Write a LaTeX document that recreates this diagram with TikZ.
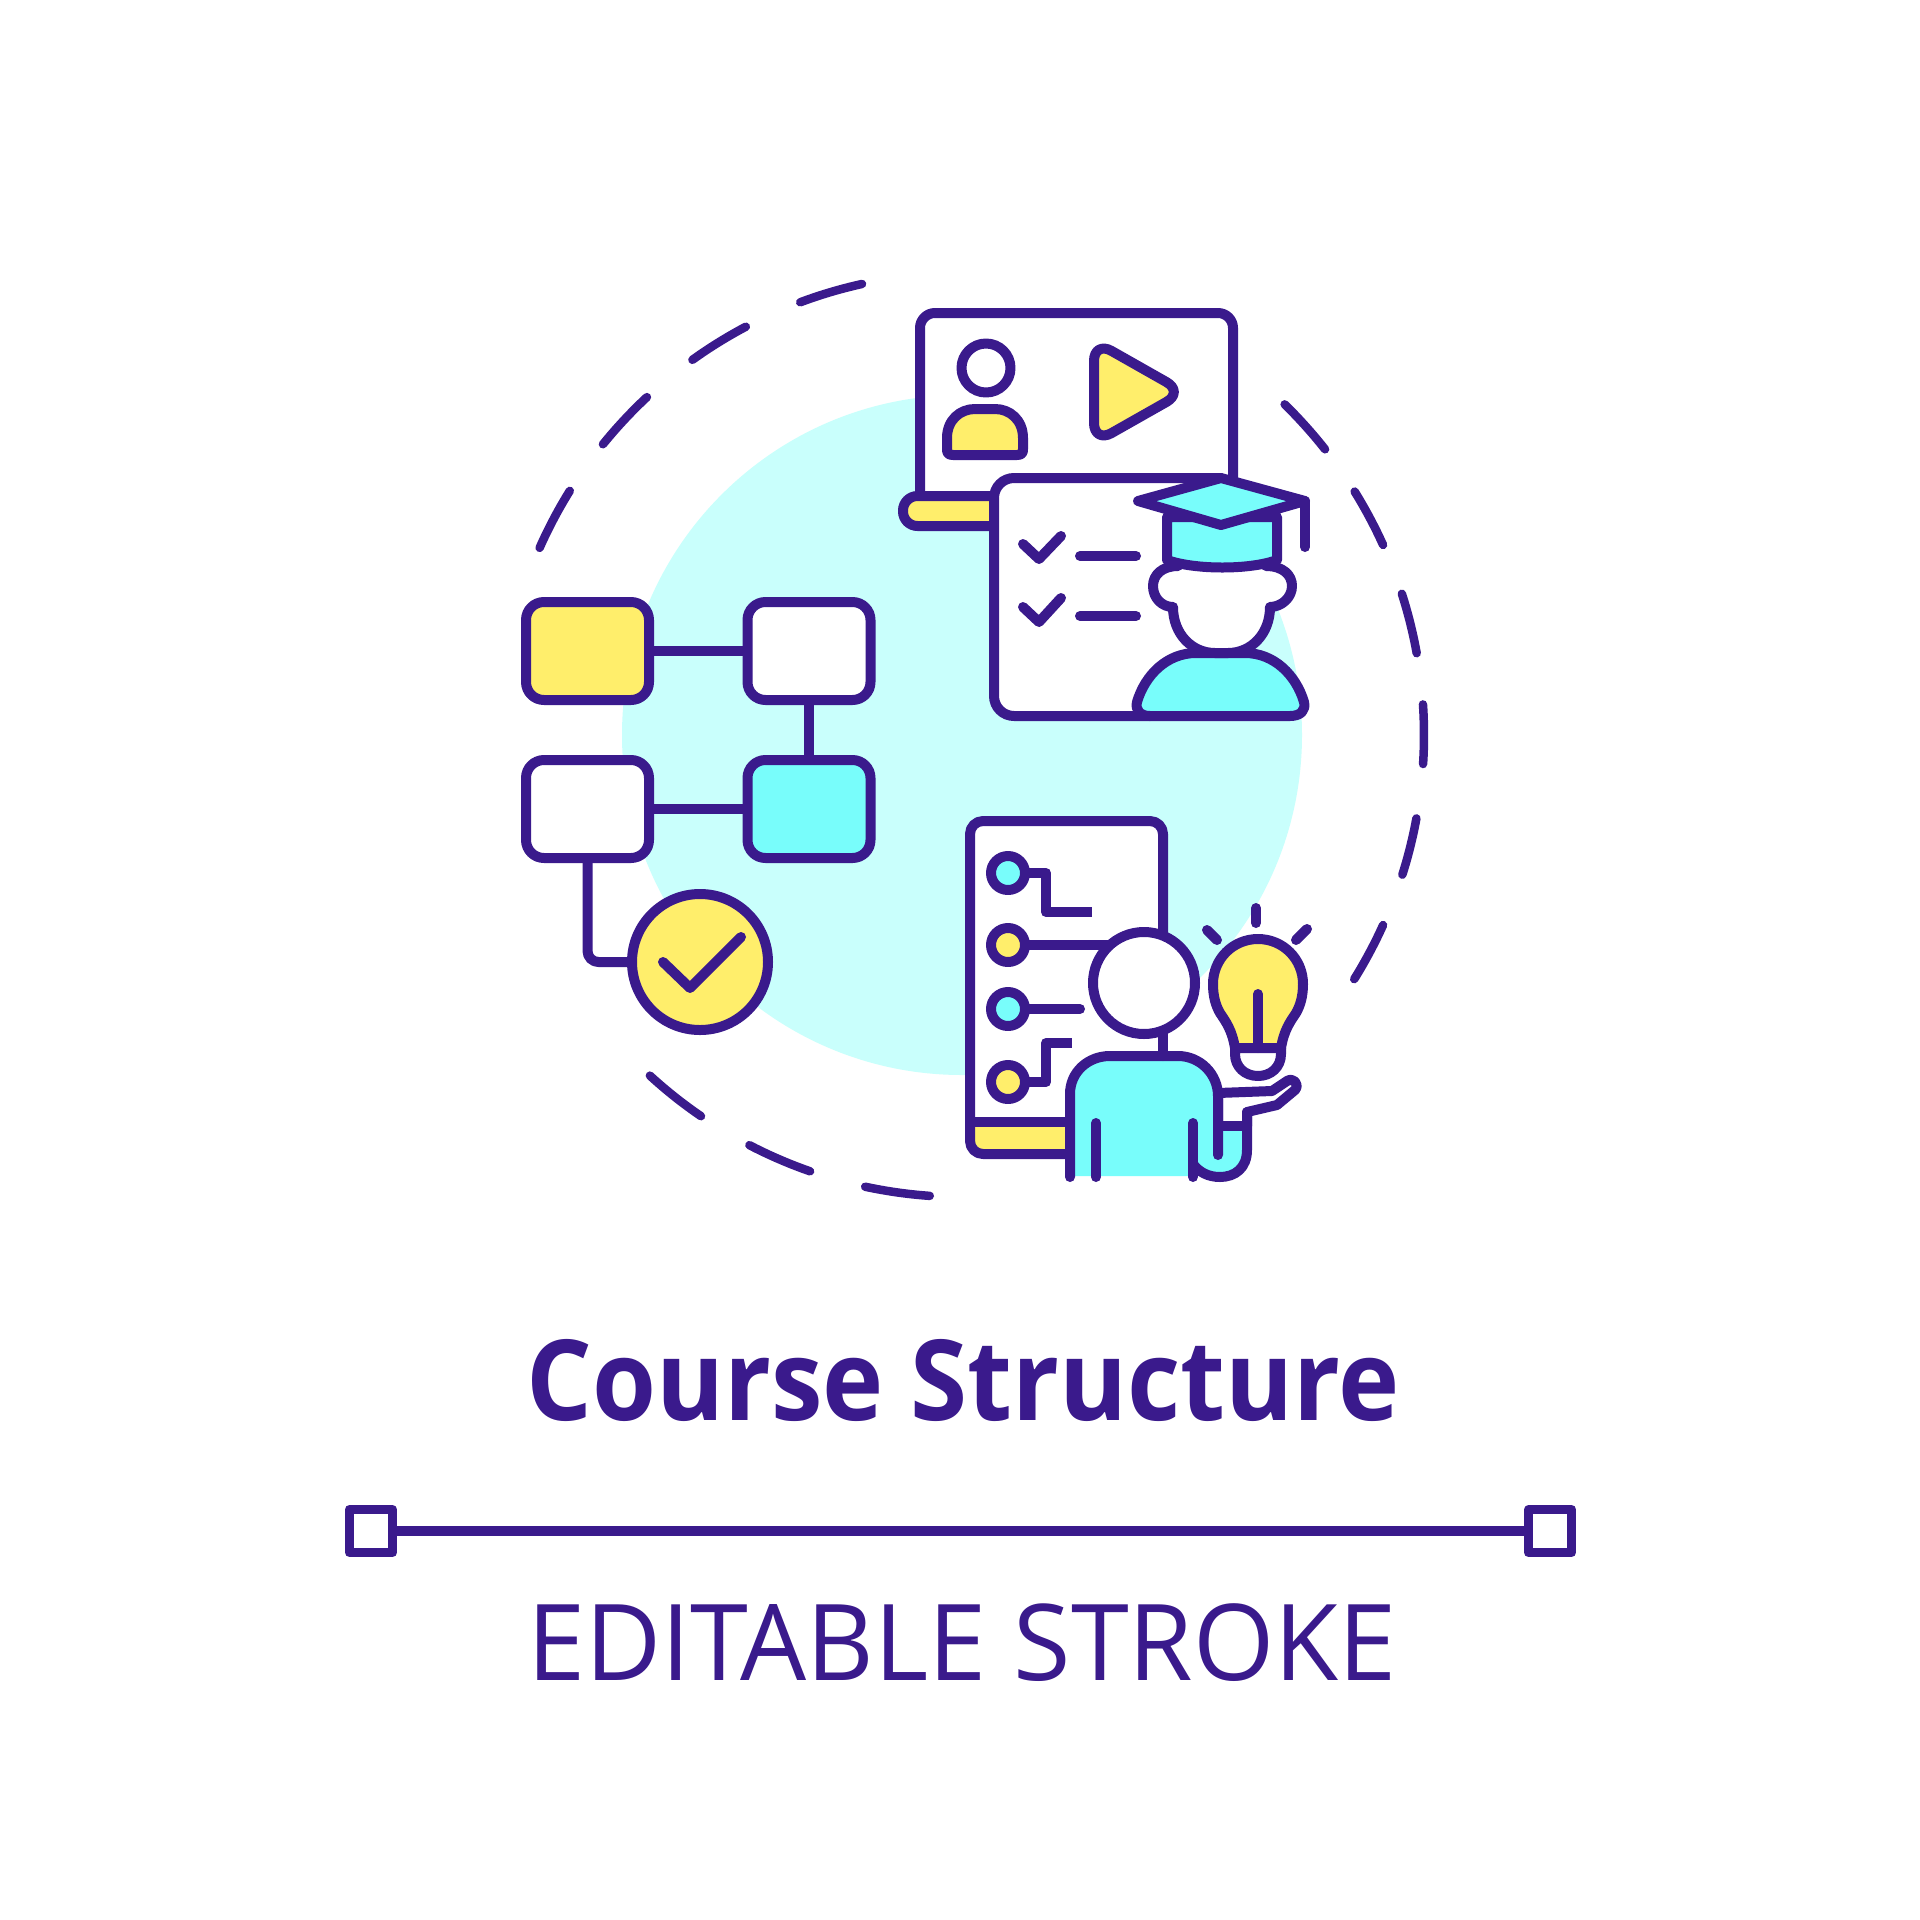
\documentclass[tikz,border=0pt]{standalone}
\usepackage{fontspec}
\setmainfont{Open Sans}
\definecolor{ink}{RGB}{58,26,140}
\definecolor{blobc}{RGB}{201,255,252}
\definecolor{cy}{RGB}{120,253,251}
\definecolor{yl}{RGB}{255,238,107}
\tikzset{
  ln/.style={draw=ink,line width=10pt,line cap=round,line join=round},
  link/.style={draw=ink,line width=10pt,line cap=butt,line join=round},
  flow/.style={ln,rounded corners=18pt,minimum width=123pt,minimum height=98pt,inner sep=0pt,outer sep=0pt},
  dot/.style={ln,circle,minimum size=34pt,inner sep=0pt,outer sep=0pt},
  hnd/.style={draw=ink,line width=9pt,fill=white,minimum size=43pt,inner sep=0pt,outer sep=0pt,line join=round},
  title/.style={text=ink,inner sep=0pt,anchor=base}
}
\begin{document}
\begin{tikzpicture}[x=1pt,y=-1pt]
\useasboundingbox (0,0) rectangle (1920,1920);
\fill[white] (0,0) rectangle (1920,1920);
% blob
\fill[blobc] (962,735) circle[radius=340pt];
% dashed ring
\foreach \a/\b in {-110.5/-102.5,-125.7/-117.9,-141/-133,-156.1/-148.1,132.5/124.4,117.4/109.2,102.1/94,-45.7/-38.2,-31.8/-24.3,-17.8/-10.2,-3.8/3.6,10.4/17.6,24.3/31.9}
  \draw[ln,line width=8.5pt] plot[domain=\a:\b,samples=10,smooth] ({962+462*cos(\x)},{735+462*sin(\x)});
% flow chart
\node[flow,fill=yl] (a) at (587.5,651) {};
\node[flow,fill=white] (b) at (809,651) {};
\node[flow,fill=white] (c) at (587.5,809) {};
\node[flow,fill=cy] (d) at (809,809) {};
\node[ln,circle,fill=yl,minimum size=136pt,inner sep=0pt,outer sep=0pt] (chk) at (700,962) {};
\draw[link,shorten <=2pt,shorten >=2pt] (a) -- (b);
\draw[link,shorten <=2pt,shorten >=2pt] (b) -- (d);
\draw[link,shorten <=2pt,shorten >=2pt] (c) -- (d);
\draw[link,rounded corners=11pt,shorten <=2pt,shorten >=2pt] (c.south) |- (chk.west);
\coordinate (k1) at (663,962); \coordinate (k2) at (690,988); \coordinate (k3) at (741,937);
\draw[ln] (k1) -- (k2) -- (k3);
% monitor
\draw[ln,fill=white,rounded corners=15pt] (920,496) -- (920,313) -- (1233,313) -- (1233,496);
\draw[ln,fill=yl,rounded corners=14.5pt] (994,496) -- (903,496) -- (903,526) -- (994,526);
\draw[ln,fill=white] (986,368) circle[radius=24.5pt];
\draw[ln,fill=yl] (953,455) .. controls (948,455) and (947,453) .. (947,449) -- (947,438) .. controls (947,420) and (960,409) .. (975,409) -- (995,409) .. controls (1010,409) and (1023,420) .. (1023,438) -- (1023,449) .. controls (1023,453) and (1022,455) .. (1017,455) -- cycle;
\draw[ln,fill=yl,rounded corners=20pt] (1094,341) -- (1184,392) -- (1094,443) -- cycle;
% sheet
\fill[white,rounded corners=20pt] (1225,478) -- (994,478) -- (994,716) -- (1225,716) -- cycle;
\draw[ln,rounded corners=20pt] (1221,478) -- (994,478) -- (994,716) -- (1150,716);
% checks
\draw[ln] (1023,544) -- (1039,559) -- (1061,536);
\draw[ln] (1023,607) -- (1039,622) -- (1061,598);
\draw[ln] (1080,556) -- (1136,556);
\draw[ln] (1080,616) -- (1136,616);
% graduate body
\draw[ln,fill=cy] (1150,716) -- (1290,716) .. controls (1301,716) and (1306,710) .. (1304,702) .. controls (1296,675) and (1274,653) .. (1245,653) -- (1196,653) .. controls (1167,653) and (1145,675) .. (1137,702) .. controls (1135,710) and (1140,716) .. (1150,716) -- cycle;
% head
\draw[ln,fill=white] (1178,558) -- (1178,566) .. controls (1162,566) and (1153,575) .. (1153,586) .. controls (1153,598) and (1162,607) .. (1173,607) .. controls (1173,634) and (1192,653) .. (1215,653) -- (1228,653) .. controls (1251,653) and (1270,634) .. (1270,607) .. controls (1281,607) and (1292,598) .. (1292,586) .. controls (1292,575) and (1283,566) .. (1266,566) -- (1266,558) -- cycle;
% cap
\draw[ln,fill=cy] (1167,517) -- (1167,560) .. controls (1195,570) and (1250,570) .. (1277,560) -- (1277,517) -- cycle;
\draw[ln,fill=cy] (1138,501) -- (1221,478) -- (1305,501) -- (1221,525) -- cycle;
\draw[ln] (1305,501) -- (1305,547);
% tablet
\fill[white,rounded corners=13pt] (1163,1122) -- (1163,821) -- (970,821) -- (970,1122) -- cycle;
\fill[yl,rounded corners=11pt] (1072,1122) -- (970,1122) -- (970,1154) -- (1072,1154) -- cycle;
\draw[ln] (970,1122) -- (1072,1122);
\draw[ln,rounded corners=13pt] (1163,945) -- (1163,821) -- (970,821) -- (970,1154) -- (1072,1154);
% tablet list
\node[dot,fill=cy] (s1) at (1008,873) {};
\node[dot,fill=yl] (s2) at (1008,945) {};
\node[dot,fill=cy] (s3) at (1008,1009) {};
\node[dot,fill=yl] (s4) at (1008,1082) {};
\coordinate (e1) at (1092,912); \coordinate (e2) at (1108,945); \coordinate (e3) at (1080,1009); \coordinate (e4) at (1072,1043);
\draw[ln,line cap=butt,shorten <=2pt] (s1.east) -- (1046,873) -- (1046,912) -- (e1);
\draw[ln,line cap=butt,shorten <=2pt] (s2.east) -- (e2);
\draw[ln,line cap=round] (s3.east) ++(3,0) -- (e3);
\draw[ln,line cap=butt,shorten <=2pt] (s4.east) -- (1046,1082) -- (1046,1043) -- (e4);
% hand
\draw[ln,fill=white] (1218,1093) -- (1272,1091) -- (1287,1081) .. controls (1293,1077) and (1300,1084) .. (1295,1090) -- (1277,1105) -- (1247,1112) -- (1247,1126) -- (1218,1126) -- cycle;
% presenter body
\fill[cy] (1070,1176) -- (1070,1094) .. controls (1070,1072) and (1088,1056) .. (1110,1056) -- (1178,1056) .. controls (1200,1056) and (1218,1074) .. (1218,1096) -- (1218,1176) -- cycle;
\fill[cy] (1195,1126) -- (1247,1126) -- (1247,1150) .. controls (1247,1168) and (1235,1177) .. (1220,1177) .. controls (1205,1177) and (1195,1168) .. (1195,1150) -- cycle;
\draw[ln] (1070,1177) -- (1070,1094) .. controls (1070,1072) and (1088,1056) .. (1110,1056) -- (1178,1056) .. controls (1200,1056) and (1218,1074) .. (1218,1096) -- (1218,1155);
\draw[ln] (1096,1123) -- (1096,1177);
\draw[ln] (1193,1123) -- (1193,1177);
\draw[ln] (1218,1126) -- (1247,1126);
\draw[ln] (1247,1112) -- (1247,1150) .. controls (1247,1168) and (1235,1177) .. (1220,1177) .. controls (1208,1177) and (1199,1172) .. (1193,1164);
% presenter head
\draw[ln] (1163,1030) -- (1163,1056);
\draw[ln,fill=white] (1144,983) circle[radius=51pt];
% bulb
\draw[ln,fill=yl] (1235,1048) .. controls (1232,1030) and (1226,1022) .. (1220,1013) .. controls (1216,1006) and (1213,997) .. (1213,984) .. controls (1213,959) and (1233,939) .. (1258,939) .. controls (1283,939) and (1303,959) .. (1303,984) .. controls (1303,997) and (1300,1006) .. (1296,1013) .. controls (1290,1022) and (1284,1030) .. (1281,1048) -- cycle;
\draw[ln,fill=white] (1235,1048) -- (1235,1054) .. controls (1235,1067) and (1245,1076) .. (1258,1076) .. controls (1271,1076) and (1281,1067) .. (1281,1054) -- (1281,1048) -- cycle;
\draw[ln] (1258,994) -- (1258,1048);
\draw[ln] (1207,930) -- (1217,940);
\draw[ln] (1256,908) -- (1256,923);
\draw[ln] (1307,929) -- (1296,940);
% titles
\node[title] (t1) at (963,1420) {\scalebox{0.924}[1]{\fontsize{112}{112}\selectfont\bfseries Course Structure}};
\node[title] (t2) at (962,1680) {\scalebox{0.985}[1]{\fontsize{106}{106}\selectfont EDITABLE STROKE}};
% rule
\node[hnd] (h1) at (371,1531) {};
\node[hnd] (h2) at (1550,1531) {};
\draw[link] (h1) -- (h2);
\end{tikzpicture}
\end{document}
